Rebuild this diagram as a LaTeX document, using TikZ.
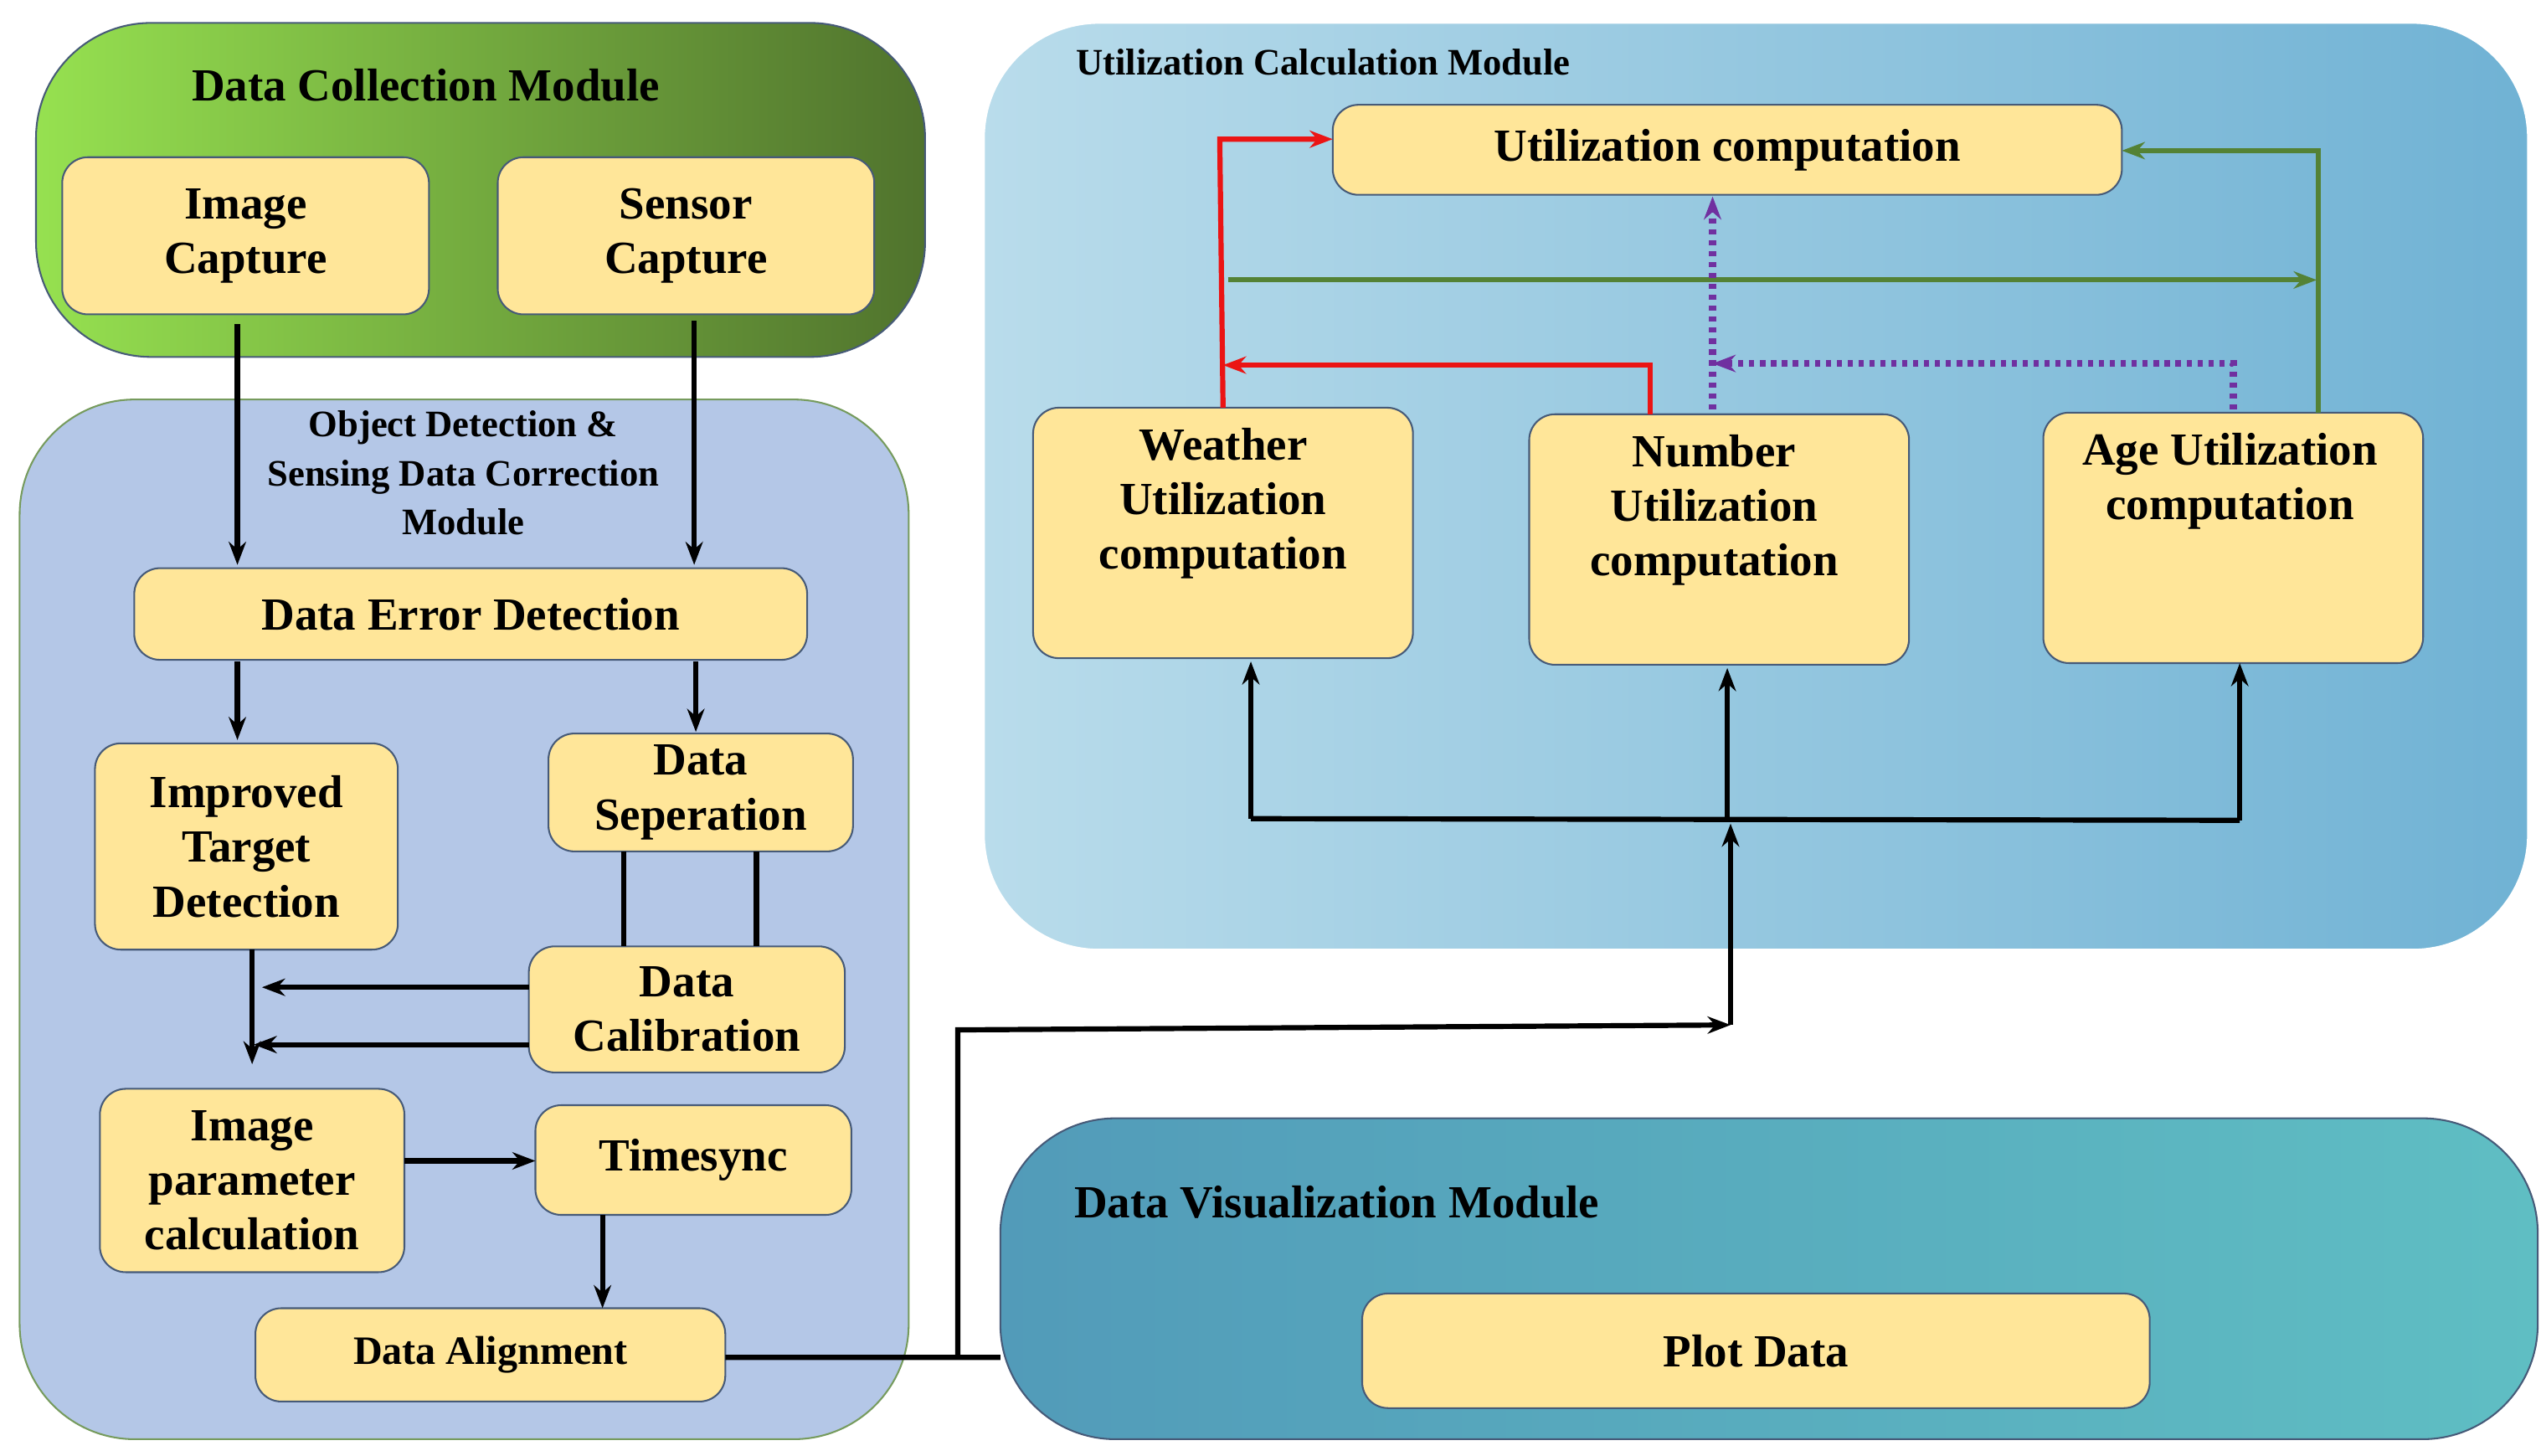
\documentclass[tikz,border=0pt]{standalone}
\usepackage{fontspec}
\setmainfont{Liberation Serif}
\usetikzlibrary{arrows.meta,calc}
\definecolor{boxfill}{RGB}{255,230,153}
\definecolor{boxline}{RGB}{70,90,120}
\definecolor{odfill}{RGB}{180,199,231}
\definecolor{modgreen}{RGB}{84,130,53}
\definecolor{redln}{RGB}{235,20,20}
\definecolor{grnln}{RGB}{84,130,53}
\definecolor{purln}{RGB}{112,48,160}
\tikzset{
  box/.style={draw=boxline,fill=boxfill,rounded corners=9pt,line width=0.6pt,
    font=\bfseries\fontsize{16}{19}\selectfont,align=center},
  mod/.style={draw=boxline,rounded corners=40pt,line width=0.6pt},
  arr/.style={-{Stealth[length=8pt,width=6pt]},line width=1.8pt},
}
\newcommand{\boxat}[6]{% name, x1,y1,x2,y2,text
  \path[box] (#2,#3) rectangle (#4,#5);
  \node[font=\bfseries\fontsize{16}{19}\selectfont,align=center] (#1) at ($(#2,#3)!0.5!(#4,#5)$) {#6};
  \coordinate (#1nw) at (#2,#3); \coordinate (#1se) at (#4,#5);}
\begin{document}
\begin{tikzpicture}[x=0.02cm,y=-0.02cm]
\useasboundingbox (0,0) rectangle (1552,889);
% modules
\shade[mod,left color={rgb,255:red,150;green,225;blue,80},right color={rgb,255:red,80;green,115;blue,45}] (22,14) rectangle (565,218);
\node[font=\bfseries\fontsize{16}{19}\selectfont] (dctitle) at (260,52) {Data Collection Module};
\path[mod,fill=odfill,draw=modgreen!80] (12,244) rectangle (555,879);
\node[font=\bfseries\fontsize{13}{17}\selectfont,align=center] (odtitle) at (283,289) {Object Detection \&\\Sensing Data Correction\\Module};
\shade[mod,left color={rgb,255:red,185;green,220;blue,235},right color={rgb,255:red,112;green,178;blue,212},draw=white] (601,14) rectangle (1544,580);
\node[font=\bfseries\fontsize{13}{16}\selectfont,anchor=west] (uctitle) at (651,38) {Utilization Calculation Module};
\shade[mod,left color={rgb,255:red,82;green,155;blue,185},right color={rgb,255:red,95;green,190;blue,195}] (611,683) rectangle (1550,879);
\node[font=\bfseries\fontsize{16}{19}\selectfont,anchor=west] (dvtitle) at (650,734) {Data Visualization Module};
% boxes
\boxat{ic}{38}{96}{262}{192}{Image\\Capture}
\boxat{sc}{304}{96}{534}{192}{Sensor\\Capture}
\boxat{ded}{82}{347}{493}{403}{Data Error Detection}
\boxat{itd}{58}{454}{243}{580}{Improved\\Target\\Detection}
\boxat{ds}{335}{448}{521}{520}{Data\\Seperation}
\boxat{dc}{323}{578}{516}{655}{Data\\Calibration}
\boxat{ipc}{61}{665}{247}{777}{Image\\parameter\\calculation}
\boxat{ts}{327}{675}{520}{742}{Timesync}
\boxat{da}{156}{799}{443}{856}{\fontsize{14}{17}\selectfont Data Alignment}
\boxat{uc}{814}{64}{1296}{119}{Utilization computation}
\path[box] (631,249) rectangle (863,402);
\node[box,draw=none,fill=none,anchor=north] (wu) at (747,255) {Weather\\Utilization\\computation};
\path[box] (934,253) rectangle (1166,406);
\node[box,draw=none,fill=none,anchor=north] (nu) at (1047,259) {Number\\Utilization\\computation};
\path[box] (1248,252) rectangle (1480,405);
\node[box,draw=none,fill=none,anchor=north] (au) at (1362,258) {Age Utilization\\computation};
\boxat{pd}{832}{790}{1313}{860}{Plot Data}
% left connectors
\coordinate (icb) at (145,198); \coordinate (dedt1) at (145,345);
\coordinate (scb) at (424,196); \coordinate (dedt2) at (424,345);
\draw[arr] (icb) -- (dedt1);
\draw[arr] (scb) -- (dedt2);
\draw[arr] (145,404) -- (145,452);
\draw[arr] (425,404) -- (425,447);
\draw[line width=1.8pt] (381,520) -- (381,578) (462,520) -- (462,578);
\draw[arr] (323,603) -- (160,603);
\draw[arr] (323,638) -- (155,638);
\draw[arr] (154,580) -- (154,650);
\draw[arr] (247,709) -- (327,709);
\draw[arr] (368,742) -- (368,799);
\coordinate (j1) at (1057,626);
\draw[arr] (443,829) -- (611,829) (585,829) -- (585,629) -- (j1);
\draw[arr] (j1) -- (1057,503);
\draw[line width=1.8pt] (764,500) -- (1368,501);
\draw[arr] (764,500) -- (764,404);
\draw[arr] (1368,501) -- (1368,405);
\draw[arr] (1055,500) -- (1055,408);
% red
\draw[arr,redln] (747,249) -- (745,85) -- (814,85);
\draw[arr,redln] (1008,253) -- (1008,223) -- (747,223);
% green
\draw[arr,grnln] (750,171) -- (1415,171);
\draw[arr,grnln] (1416,252) -- (1416,92) -- (1296,92);
% purple dotted
\draw[arr,purln,dotted,line width=2.4pt] (1046,250) -- (1046,120);
\draw[arr,purln,dotted,line width=2.4pt] (1364,250) -- (1364,222) -- (1046,222);
\end{tikzpicture}
\end{document}
